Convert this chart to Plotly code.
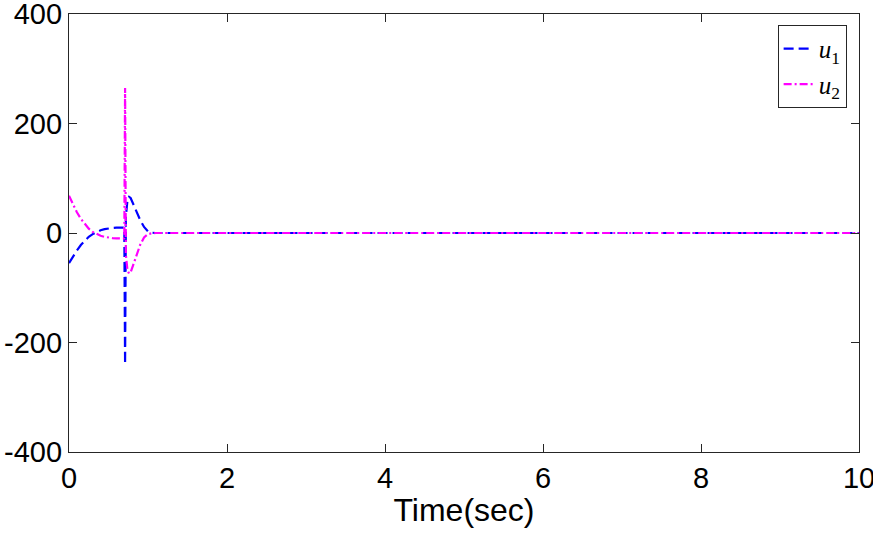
import plotly.graph_objects as go

t1 = [0, 0.05, 0.1, 0.15, 0.2, 0.25, 0.3, 0.35, 0.4, 0.45, 0.5, 0.55, 0.6, 0.65, 0.70, 0.71, 0.72, 0.74, 0.76, 0.78, 0.82, 0.86, 0.90, 0.95, 1.0, 1.05, 1.1, 2, 4, 6, 8, 10]
u1 = [-55, -43, -32, -22, -14, -7, -2, 2, 5, 7, 8.5, 9.3, 9.8, 10, 10, -240, 30, 60, 66, 64, 50, 36, 24, 11, 3, 0.5, 0, 0, 0, 0, 0, 0]

t2 = [0, 0.05, 0.1, 0.15, 0.2, 0.25, 0.3, 0.35, 0.4, 0.45, 0.5, 0.55, 0.6, 0.65, 0.70, 0.71, 0.72, 0.74, 0.76, 0.78, 0.82, 0.86, 0.90, 0.95, 1.0, 1.05, 1.1, 2, 4, 6, 8, 10]
u2 = [68, 52, 38, 26, 16, 8, 2, -2, -5, -7, -8.5, -9.3, -9.7, -10, -10, 265, -40, -68, -74, -72, -55, -38, -22, -8, -2, -0.5, 0, 0, 0, 0, 0, 0]

x_ticks = [0, 2, 4, 6, 8, 10]
y_ticks = [-400, -200, 0, 200, 400]
y_tick_labels = ["-400", "-200", "0", "200", "400"]

fig = go.Figure()
fig.add_trace(go.Scatter(x=t1, y=u1, mode="lines", name="<i>u</i><sub>1</sub>",
                         line=dict(color="#0000ff", width=2.2, dash="10px,5px")))
fig.add_trace(go.Scatter(x=t2, y=u2, mode="lines", name="<i>u</i><sub>2</sub>",
                         line=dict(color="#ff00ff", width=2.2, dash="8px,3px,2px,3px")))

tick_font = dict(family="Liberation Sans, Arial", size=29, color="black")
axis_common = dict(showgrid=False, zeroline=False, showline=True, linecolor="#262626",
                   linewidth=1.3, mirror="ticks", ticks="inside", ticklen=8,
                   tickcolor="#262626", tickwidth=1.3, automargin=False,
                   ticklabeloverflow="allow", tickfont=tick_font)

fig.update_layout(
    width=873, height=541,
    margin=dict(l=69, r=14, t=14, b=89),
    plot_bgcolor="white", paper_bgcolor="white",
    xaxis=dict(range=[0, 10], tickvals=x_ticks,
               title=dict(text="Time(sec)", font=dict(family="Liberation Sans, Arial", size=32, color="black"), standoff=5),
               **axis_common),
    yaxis=dict(range=[-400, 400], tickvals=y_ticks, ticktext=y_tick_labels, **axis_common),
    legend=dict(x=0.897, y=0.975, xanchor="left", yanchor="top",
                bgcolor="white", bordercolor="#262626", borderwidth=1,
                font=dict(family="Liberation Serif, Times New Roman", size=25, color="black"),
                tracegroupgap=0, itemwidth=30),
    showlegend=True,
)

fig.write_html("out.html", config={"displayModeBar": False},
               post_script="document.body.style.margin='0';")
